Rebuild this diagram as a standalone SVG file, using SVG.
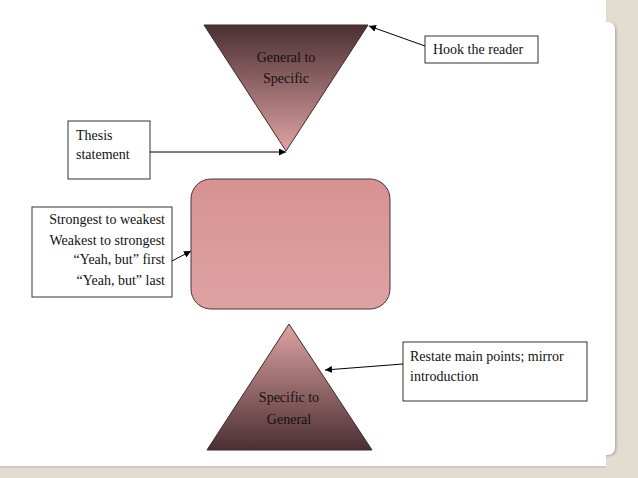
<svg xmlns="http://www.w3.org/2000/svg" width="638" height="478" viewBox="0 0 638 478">
<defs>
<linearGradient id="gDown" x1="0" y1="0" x2="0" y2="1">
<stop offset="0" stop-color="#4b2f33"/>
<stop offset="1" stop-color="#dfa3a3"/>
</linearGradient>
<linearGradient id="gUp" x1="0" y1="0" x2="0" y2="1">
<stop offset="0" stop-color="#dfa3a3"/>
<stop offset="1" stop-color="#4b2f33"/>
</linearGradient>
<linearGradient id="gBox" x1="0" y1="0" x2="0" y2="1">
<stop offset="0" stop-color="#d79292"/>
<stop offset="1" stop-color="#dea2a2"/>
</linearGradient>
<marker id="arr" viewBox="0 0 10 10" refX="10" refY="5" markerWidth="7" markerHeight="7" markerUnits="userSpaceOnUse" orient="auto">
<path d="M0,0 L10,5 L0,10 z" fill="#000"/>
</marker>
<filter id="sh" x="-20%" y="-5%" width="160%" height="110%">
<feDropShadow dx="1.5" dy="1" stdDeviation="1" flood-color="#9a9488" flood-opacity="0.7"/>
</filter>
</defs>
<style>
text{font-family:"Liberation Serif","Times New Roman",serif;font-size:14px;fill:#111}
.box{fill:#fff;stroke:#333;stroke-width:1}
.shape{stroke:#3a2a2c;stroke-width:1}
.con{stroke:#000;stroke-width:1;fill:none;marker-end:url(#arr)}
</style>
<rect x="0" y="0" width="638" height="478" fill="#e3dcd0"/>
<rect x="0" y="0" width="606" height="467" fill="#fff"/>
<rect x="590" y="22" width="25" height="433" rx="7" fill="#fff" filter="url(#sh)"/>
<rect x="0" y="0" width="606" height="466" fill="#fff"/>
<rect x="0" y="466" width="606" height="2" fill="#cfc9c2"/>

<g id="top-triangle">
<polygon class="shape" points="204,25 368,25 286,151" fill="url(#gDown)"/>
<text x="286" y="62" text-anchor="middle">General to</text>
<text x="286" y="83" text-anchor="middle">Specific</text>
</g>
<g id="hook">
<rect class="box" x="425" y="36" width="113" height="27"/>
<text x="433" y="54">Hook the reader</text>
</g>
<g id="thesis">
<rect class="box" x="68" y="121" width="82" height="58"/>
<text x="76" y="140">Thesis</text>
<text x="76" y="159">statement</text>
</g>
<g id="body">
<rect x="191" y="179" width="199" height="130" rx="20" fill="url(#gBox)" stroke="#4a3538" stroke-width="1"/>
</g>
<g id="order">
<rect class="box" x="32" y="207" width="140" height="90"/>
<text x="165" y="224" text-anchor="end">Strongest to weakest</text>
<text x="165" y="245" text-anchor="end">Weakest to strongest</text>
<text x="165" y="264" text-anchor="end">“Yeah, but” first</text>
<text x="165" y="285" text-anchor="end">“Yeah, but” last</text>
</g>
<g id="bottom-triangle">
<polygon class="shape" points="289,324 372,450 207,450" fill="url(#gUp)"/>
<text x="289" y="402" text-anchor="middle">Specific to</text>
<text x="289" y="424" text-anchor="middle">General</text>
</g>
<g id="restate">
<rect class="box" x="403" y="342" width="184" height="59"/>
<text x="410" y="361">Restate main points; mirror</text>
<text x="410" y="381">introduction</text>
</g>
<g id="connectors">
<line class="con" x1="425" y1="46" x2="369" y2="26"/>
<line class="con" x1="150" y1="152" x2="286" y2="152"/>
<line class="con" x1="172" y1="261" x2="191" y2="251"/>
<line class="con" x1="403" y1="364" x2="325" y2="370"/>
</g>
</svg>
